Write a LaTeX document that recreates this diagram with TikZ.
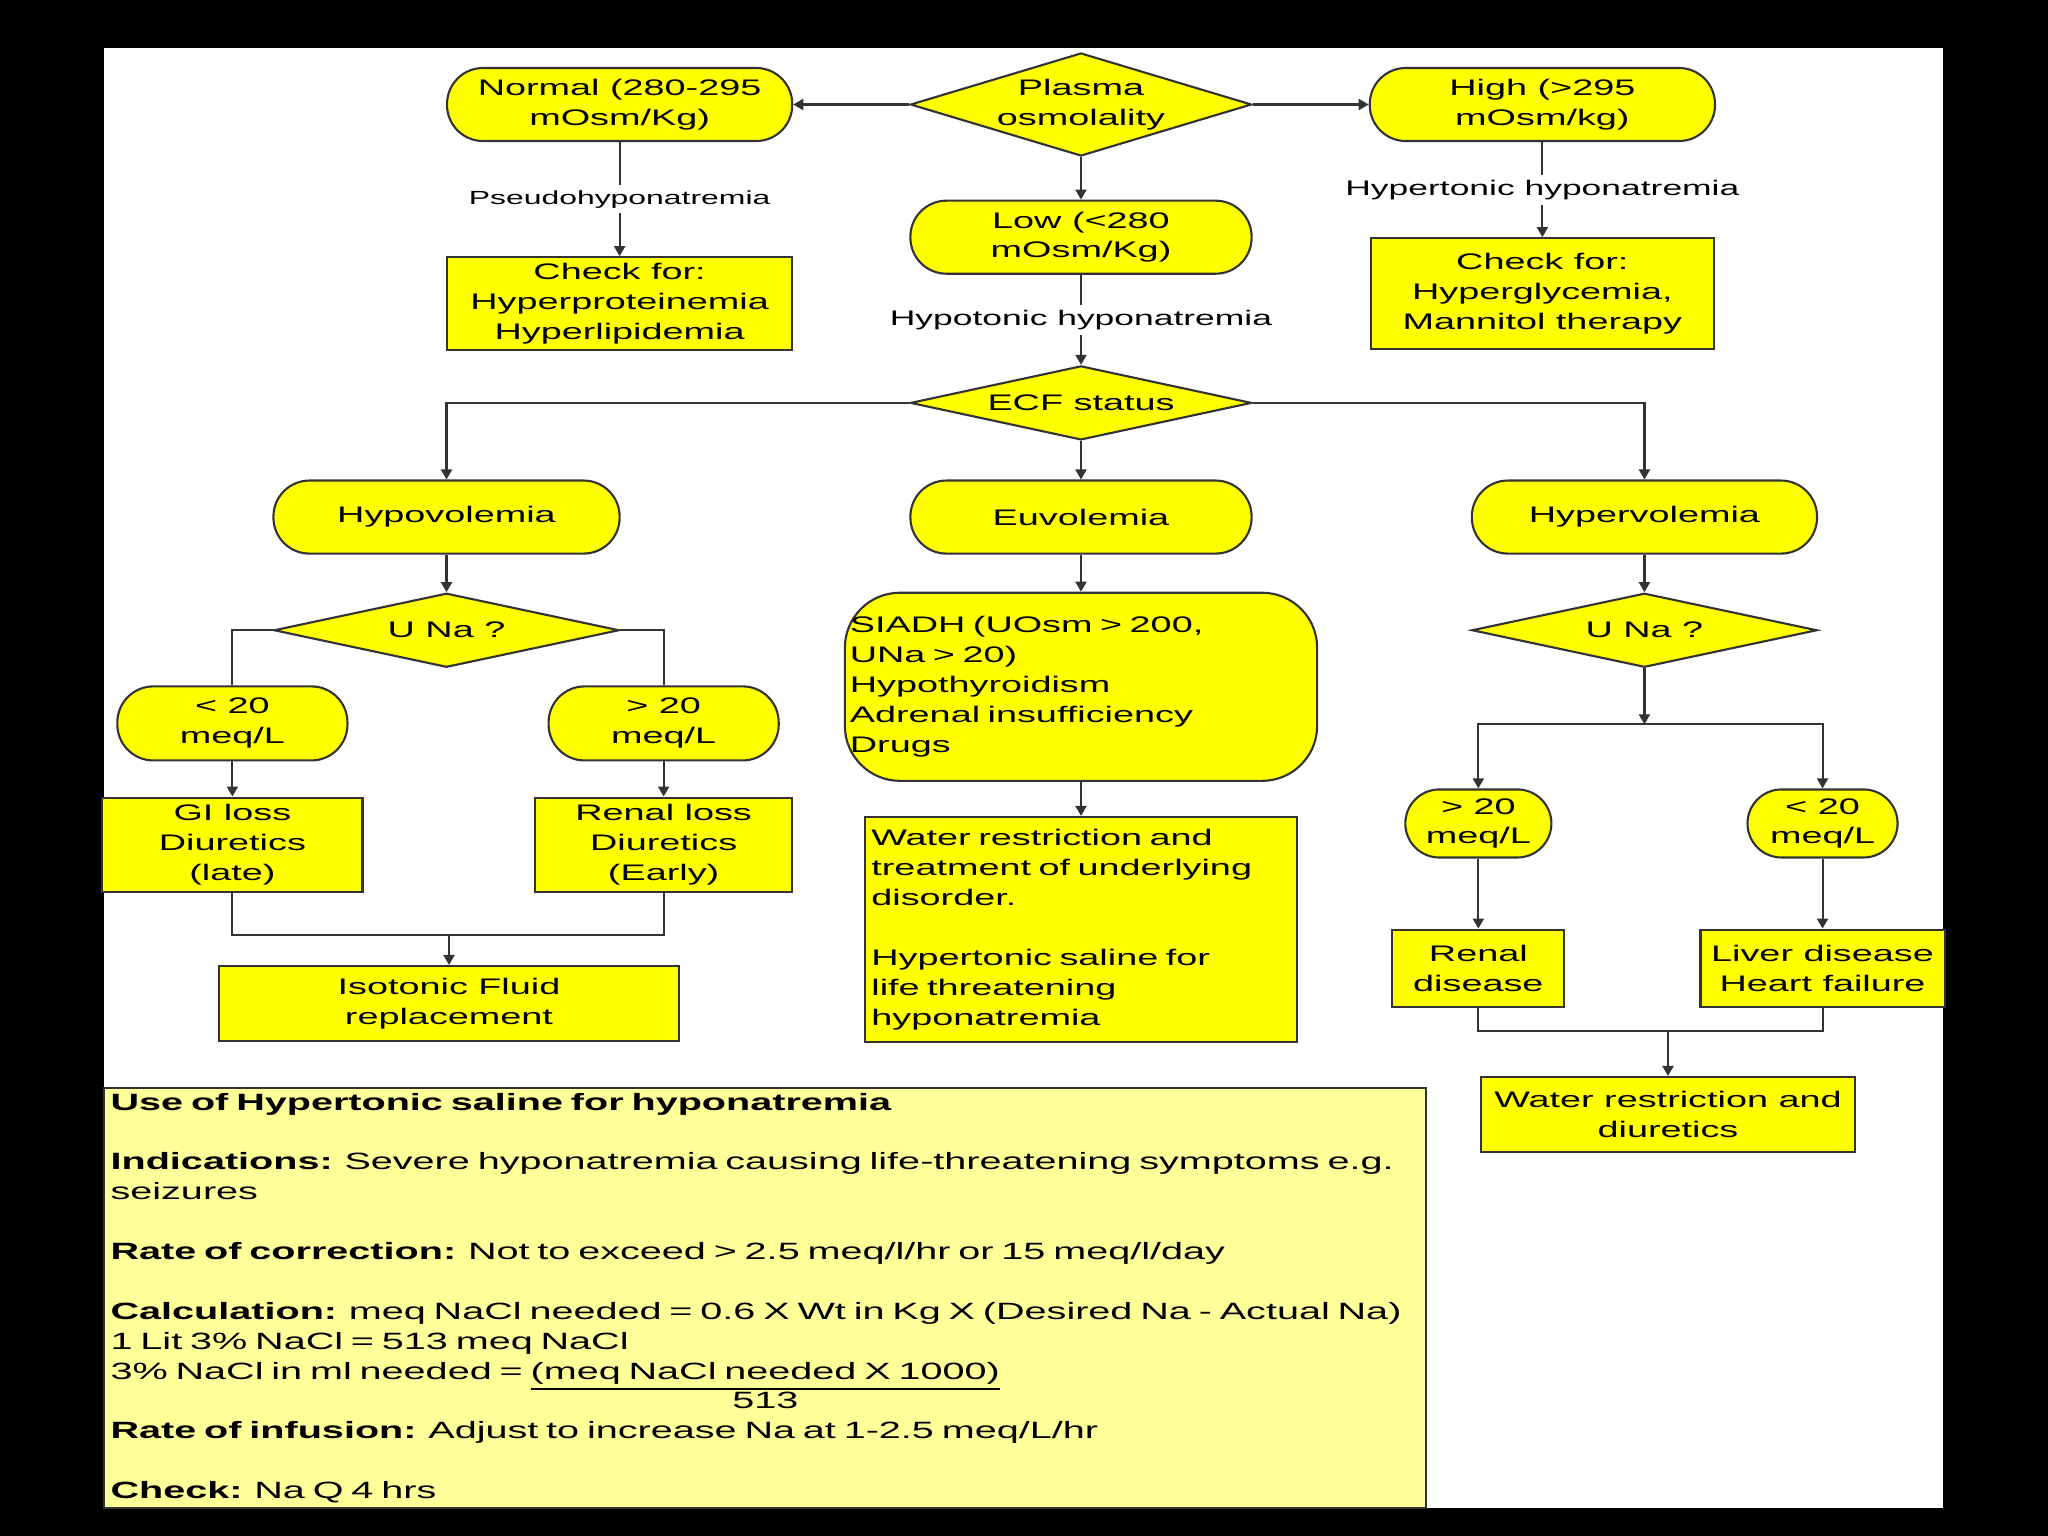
\documentclass[tikz,border=0pt]{standalone}
\usepackage{fontspec}
\setmainfont{Liberation Sans}[FakeStretch=1.68]
\usepackage{calc}
\usetikzlibrary{positioning}
\usetikzlibrary{shapes.geometric}
\usetikzlibrary{arrows.meta}

\definecolor{boxyellow}{HTML}{FFFF00}
\definecolor{infoyellow}{HTML}{FFFF99}
\definecolor{edgegray}{HTML}{333333}

\tikzset{
  terminal/.style={rectangle, rounded corners=0.36cm, draw=edgegray, fill=boxyellow, align=center, inner sep=1pt, minimum width=3.45cm, minimum height=0.73cm},
  process/.style={rectangle, draw=edgegray, fill=boxyellow, align=center, inner sep=1pt},
  decision/.style={diamond, aspect=4.6, draw=edgegray, fill=boxyellow, align=center, inner sep=0pt, minimum width=3.45cm, minimum height=0.74cm},
  info/.style={rectangle, draw=edgegray, fill=infoyellow, inner ysep=0pt, font=\fontsize{6.7}{8.5}\selectfont},
  lbl/.style={fill=white, inner sep=1.5pt, font=\fontsize{6}{7}\selectfont},
  arr/.style={-{Triangle[length=0.1cm, width=0.11cm]}},
}

\begin{document}
\begin{tikzpicture}[x=0.01cm, y=-0.01cm, line width=0.6pt, draw=edgegray, font=\fontsize{6.4}{8.5}\selectfont]

  \fill[black] (0,0) rectangle (2048,1536);
  \fill[white] (104,48) rectangle (1943,1508);

  \node[decision, aspect=3.3, minimum width=3.41cm, minimum height=1.03cm, inner sep=-1.5pt] (plasma) at (1081,104.5) {Plasma\\osmolality};
  \node[terminal, left=1.16cm of plasma] (normal) {Normal (280-295\\mOsm/Kg)};
  \node[terminal, right=1.16cm of plasma] (high) {High (>295\\mOsm/kg)};
  \node[terminal, minimum width=3.41cm, below=0.425cm of plasma] (low) {Low (<280\\mOsm/Kg)};

  \node[process, minimum width=3.45cm, minimum height=0.93cm, below=1.14cm of normal] (checkN) {Check for:\\Hyperproteinemia\\Hyperlipidemia};
  \node[process, minimum width=3.43cm, minimum height=1.11cm, below=0.95cm of high] (checkH) {Check for:\\Hyperglycemia,\\Mannitol therapy};

  \node[decision, minimum width=3.41cm, below=0.90cm of low] (ecf) {ECF status};
  \node[terminal, minimum width=3.41cm, below=0.385cm of ecf] (euvo) {Euvolemia};
  \node[terminal, minimum width=3.46cm, left=2.885cm of euvo] (hypo) {Hypovolemia};
  \node[terminal, right=2.18cm of euvo] (hyper) {Hypervolemia};

  \node[decision, below=0.375cm of hypo] (una1) {U Na ?};
  \node[terminal, minimum width=2.30cm, minimum height=0.74cm, below=0.17cm of una1, xshift=-2.14cm] (lt20a) {< 20\\meq/L};
  \node[terminal, minimum width=2.30cm, minimum height=0.74cm, below=0.17cm of una1, xshift=2.17cm] (gt20a) {> 20\\meq/L};
  \node[process, minimum width=2.60cm, minimum height=0.94cm, below=0.35cm of lt20a] (gi) {GI loss\\Diuretics\\(late)};
  \node[process, minimum width=2.57cm, minimum height=0.94cm, below=0.35cm of gt20a] (renal1) {Renal loss\\Diuretics\\(Early)};
  \node[process, minimum width=4.60cm, minimum height=0.75cm] (iso) at (449,1003.5) {Isotonic Fluid\\replacement};
  \coordinate (join1) at ([yshift=0.30cm]iso.north);

  \node[terminal, rounded corners=0.55cm, minimum width=4.72cm, minimum height=1.88cm, align=left, text width=4.62cm, inner sep=0.05cm, below=0.37cm of euvo] (siadh) {SIADH (UOsm > 200,\\UNa > 20)\\Hypothyroidism\\Adrenal insufficiency\\Drugs};
  \node[process, minimum width=4.31cm, minimum height=2.25cm, align=left, text width=4.19cm, inner xsep=0.06cm, below=0.34cm of siadh] (water1) {Water restriction and\\treatment of underlying\\disorder.\\[8.5pt]Hypertonic saline for\\life threatening\\hyponatremia};

  \node[decision, below=0.375cm of hyper] (una2) {U Na ?};
  \coordinate[below=0.56cm of una2] (split);
  \node[terminal, rounded corners=0.34cm, minimum width=1.46cm, minimum height=0.68cm, below=1.20cm of una2, xshift=-1.66cm] (gt20b) {> 20\\meq/L};
  \node[terminal, rounded corners=0.34cm, minimum width=1.50cm, minimum height=0.68cm, below=1.20cm of una2, xshift=1.78cm] (lt20b) {< 20\\meq/L};
  \node[process, minimum width=1.72cm, minimum height=0.77cm, below=0.70cm of gt20b] (renal2) {Renal\\disease};
  \node[process, minimum width=2.44cm, minimum height=0.77cm, below=0.70cm of lt20b] (liver) {Liver disease\\Heart failure};
  \node[process, minimum width=3.73cm, minimum height=0.75cm] (water2) at (1668,1114.5) {Water restriction and\\diuretics};
  \coordinate (join2) at ([yshift=0.45cm]water2.north);

  \node[info, minimum width=13.22cm, minimum height=4.20cm, text width=13.08cm, inner xsep=0.07cm, align=left] (info) at (765,1298) {%
    \textbf{Use of Hypertonic saline for hyponatremia}\\[8.5pt]
    \textbf{Indications:} Severe hyponatremia causing life-threatening symptoms e.g.\\
    seizures\\[8.5pt]
    \textbf{Rate of correction:} Not to exceed > 2.5 meq/l/hr or 15 meq/l/day\\[8.5pt]
    \textbf{Calculation:} meq NaCl needed = 0.6 X Wt in Kg X (Desired Na - Actual Na)\\
    1 Lit 3\% NaCl = 513 meq NaCl\\
    3\% NaCl in ml needed = \underline{(meq NaCl needed X 1000)}\\
    \phantom{3\% NaCl in ml needed = }\makebox[\widthof{(meq NaCl needed X 1000)}]{513}\\
    \textbf{Rate of infusion:} Adjust to increase Na at 1-2.5 meq/L/hr\\[8.5pt]
    \textbf{Check:} Na Q 4 hrs};

  \draw[arr] (plasma) -- (normal);
  \draw[arr] (plasma) -- (high);
  \draw[arr] (plasma) -- (low);
  \draw[arr] (normal) -- node[lbl, font=\fontsize{5.4}{6.5}\selectfont] {Pseudohyponatremia} (checkN);
  \draw[arr] (high) -- node[lbl] {Hypertonic hyponatremia} (checkH);
  \draw[arr] (low) -- node[lbl] {Hypotonic hyponatremia} (ecf);

  \draw[arr] (ecf) -| (hypo);
  \draw[arr] (ecf) -| (hyper);
  \draw[arr] (ecf) -- (euvo);

  \draw[arr] (hypo) -- (una1);
  \draw (una1) -| (lt20a);
  \draw (una1) -| (gt20a);
  \draw[arr] (lt20a) -- (gi);
  \draw[arr] (gt20a) -- (renal1);
  \draw (gi) |- (join1) -| (renal1);
  \draw[arr] (join1) -- (iso);

  \draw[arr] (euvo) -- (siadh);
  \draw[arr] (siadh) -- (water1);

  \draw[arr] (hyper) -- (una2);
  \draw[arr] (una2) -- (split);
  \draw[arr] (split) -| (gt20b);
  \draw[arr] (split) -| (lt20b);
  \draw[arr] (gt20b) -- (renal2);
  \draw[arr] (lt20b) -- (liver);
  \draw (renal2) |- (join2) -| (liver);
  \draw[arr] (join2) -- (water2);

\end{tikzpicture}
\end{document}
